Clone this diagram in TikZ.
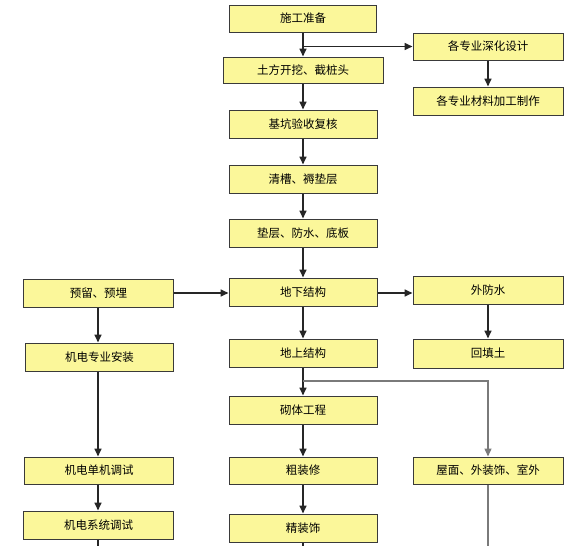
\documentclass[tikz,border=0pt]{standalone}
\usepackage{fontspec}
\setmainfont{Noto Sans CJK SC}
\usetikzlibrary{arrows.meta}
\definecolor{boxfill}{HTML}{FBF79A}
\definecolor{boxline}{HTML}{3A3A3A}
\definecolor{darkline}{HTML}{262626}
\definecolor{greyline}{HTML}{7A7A7A}
\tikzset{
  stepbox/.style={draw=boxline, line width=1pt, fill=boxfill, rectangle,
    minimum width=150pt, minimum height=28pt, inner sep=0pt,
    font=\fontsize{11.5pt}{13pt}\selectfont},
  arr/.style={draw=darkline, line width=1.6pt, -{Triangle[length=8pt,width=7pt]}},
  plain/.style={draw=darkline, line width=1.6pt},
  garr/.style={draw=greyline, line width=1.4pt, -{Triangle[length=8pt,width=7pt]}},
  gplain/.style={draw=greyline, line width=1.4pt},
}
\begin{document}
\begin{tikzpicture}[x=1pt,y=-1pt]
\useasboundingbox (0,0) rectangle (571,546);
% centre column
\node[stepbox, minimum width=147pt, minimum height=27pt] (sg) at (303,18.5) {施工准备};
\node[stepbox, minimum width=160pt, minimum height=26pt] (tf) at (303,70) {土方开挖、截桩头};
\node[stepbox, minimum width=148pt] (jk) at (303,124) {基坑验收复核};
\node[stepbox, minimum width=148pt] (qc) at (303,179) {清槽、褥垫层};
\node[stepbox, minimum width=148pt] (dc) at (303,233) {垫层、防水、底板};
\node[stepbox, minimum width=148pt] (dx) at (303,292) {地下结构};
\node[stepbox, minimum width=148pt] (ds) at (303,353) {地上结构};
\node[stepbox, minimum width=148pt] (qt) at (303,410) {砌体工程};
\node[stepbox, minimum width=148pt, minimum height=27pt] (cz) at (303,470.5) {粗装修};
\node[stepbox, minimum width=148pt] (jz) at (303,528) {精装饰};
% right column
\node[stepbox, minimum height=27pt] (sh) at (488,46.5) {各专业深化设计};
\node[stepbox] (cl) at (488,101) {各专业材料加工制作};
\node[stepbox] (wf) at (488,290) {外防水};
\node[stepbox, minimum height=29pt] (ht) at (488,353.5) {回填土};
\node[stepbox, minimum height=27pt] (wm) at (488,470.5) {屋面、外装饰、室外};
% left column
\node[stepbox] (yl) at (98.5,293) {预留、预埋};
\node[stepbox, minimum width=148pt] (jd) at (99.5,357) {机电专业安装};
\node[stepbox, minimum width=149pt, minimum height=27pt] (dj) at (99,470.5) {机电单机调试};
\node[stepbox] (xt) at (98.5,525) {机电系统调试};
% bottom edge points
\coordinate (bl) at (98,550);
\coordinate (bc) at (303,550);
\coordinate (br) at (488,550);
\coordinate (b2) at (303,381);
% centre flow
\draw[arr] (sg) -- (tf);
\draw[arr] (sg.south |- sh.west) -- (sh.west);
\draw[arr] (tf) -- (jk);
\draw[arr] (jk) -- (qc);
\draw[arr] (qc) -- (dc);
\draw[arr] (dc) -- (dx);
\draw[arr] (dx) -- (ds);
\draw[arr] (ds) -- (qt);
\draw[arr] (qt) -- (cz);
\draw[arr] (cz) -- (jz);
\draw[plain] (jz.south) -- (bc);
% right flow
\draw[arr] (sh) -- (cl);
\draw[arr] (dx.east |- yl.east) -- (wf.west |- yl.east);
\draw[arr] (wf) -- (ht);
\draw[garr] (b2) -- (b2 -| wm.north) -- (wm.north);
\draw[gplain] (wm.south) -- (br);
% left flow
\draw[arr] (yl.east) -- (yl.east -| dx.west);
\draw[arr] (yl.south -| bl) -- (jd.north -| bl);
\draw[arr] (jd.south -| bl) -- (dj.north -| bl);
\draw[arr] (dj.south -| bl) -- (xt.north -| bl);
\draw[plain] (xt.south -| bl) -- (bl);
\end{tikzpicture}
\end{document}
